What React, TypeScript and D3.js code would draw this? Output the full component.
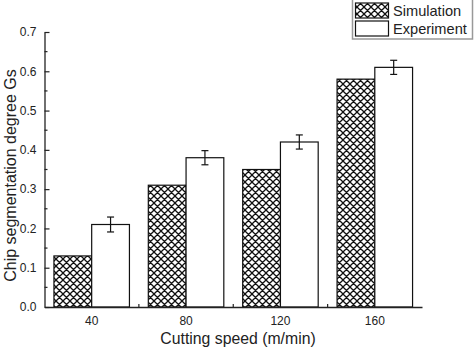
import React, { useRef, useEffect } from 'react';
import * as d3 from 'd3';

const speeds = ['40', '80', '120', '160'];
const simulation = [0.13, 0.31, 0.35, 0.58];
const experiment = [0.21, 0.38, 0.42, 0.61];
const experimentErr = [0.019, 0.018, 0.018, 0.018];
const yTicks = [0, 0.1, 0.2, 0.3, 0.4, 0.5, 0.6, 0.7];
const seriesNames = ['Simulation', 'Experiment'];

export default function App() {
  const ref = useRef<SVGSVGElement>(null);

  useEffect(() => {
    const svg = d3.select(ref.current);
    svg.selectAll('*').remove();

    const width = 474;
    const height = 350;
    const margin = { top: 32, right: 52, bottom: 43, left: 44.5 };
    const font = 'Liberation Sans, Arial, sans-serif';

    // hatch pattern for simulation bars
    const defs = svg.append('defs');
    const pat = defs.append('pattern')
      .attr('id', 'hatch')
      .attr('patternUnits', 'userSpaceOnUse')
      .attr('width', 7)
      .attr('height', 7);
    pat.append('rect').attr('width', 7).attr('height', 7).attr('fill', 'white');
    pat.append('path')
      .attr('d', 'M0,0 L7,7 M7,0 L0,7 M-1,6 L1,8 M6,-1 L8,1 M-1,1 L1,-1 M6,8 L8,6')
      .attr('stroke', '#111')
      .attr('stroke-width', 1.3);

    const x = d3.scaleBand()
      .domain(speeds)
      .range([margin.left, width - margin.right]);

    const y = d3.scaleLinear()
      .domain([0, 0.7])
      .range([height - margin.bottom, margin.top]);

    const barW = x.bandwidth() * 0.4;

    // Simulation bars
    svg.append('g')
      .selectAll('rect')
      .data(simulation)
      .enter().append('rect')
        .attr('x', (d, i) => x(speeds[i])! + x.bandwidth() / 2 - barW)
        .attr('y', d => y(d))
        .attr('width', barW)
        .attr('height', d => y(0) - y(d))
        .attr('fill', 'url(#hatch)')
        .attr('stroke', '#111')
        .attr('stroke-width', 1.2);

    // Experiment bars
    svg.append('g')
      .selectAll('rect')
      .data(experiment)
      .enter().append('rect')
        .attr('x', (d, i) => x(speeds[i])! + x.bandwidth() / 2)
        .attr('y', d => y(d))
        .attr('width', barW)
        .attr('height', d => y(0) - y(d))
        .attr('fill', 'white')
        .attr('stroke', '#111')
        .attr('stroke-width', 1.2);

    // Error bars
    const err = svg.append('g').attr('stroke', '#111').attr('stroke-width', 1.2);
    experiment.forEach((v, i) => {
      const cx = x(speeds[i])! + x.bandwidth() / 2 + barW / 2;
      const e = experimentErr[i];
      err.append('line').attr('x1', cx).attr('x2', cx).attr('y1', y(v + e)).attr('y2', y(v - e));
      err.append('line').attr('x1', cx - 3.5).attr('x2', cx + 3.5).attr('y1', y(v + e)).attr('y2', y(v + e));
      err.append('line').attr('x1', cx - 3.5).attr('x2', cx + 3.5).attr('y1', y(v - e)).attr('y2', y(v - e));
    });

    // Y axis
    const yAxis = svg.append('g')
      .attr('transform', `translate(${margin.left},0)`)
      .call(d3.axisLeft(y).tickValues(yTicks).tickFormat(d3.format('.1f')).tickSizeInner(-5).tickSizeOuter(0).tickPadding(8));
    yAxis.select('.domain').attr('stroke', '#222').attr('stroke-width', 1.3);
    yAxis.selectAll('.tick line').attr('stroke', '#222').attr('stroke-width', 1.2);
    yAxis.selectAll('.tick text').attr('font-family', font).attr('font-size', 12).attr('fill', '#222');
    const minorY = d3.range(0.05, 0.7, 0.1);
    yAxis.selectAll('.minor')
      .data(minorY)
      .enter().append('line')
        .attr('x1', 0).attr('x2', 3)
        .attr('y1', d => y(d)).attr('y2', d => y(d))
        .attr('stroke', '#222').attr('stroke-width', 1.2);

    // X axis
    const xAxis = svg.append('g')
      .attr('transform', `translate(0,${height - margin.bottom})`)
      .call(d3.axisBottom(x).tickSize(0).tickPadding(9));
    xAxis.select('.domain').attr('stroke', '#222').attr('stroke-width', 1.3);
    xAxis.selectAll('.tick text').attr('font-family', font).attr('font-size', 12).attr('fill', '#222');
    xAxis.selectAll('.minor')
      .data(speeds.slice(1))
      .enter().append('line')
        .attr('x1', d => x(d)!).attr('x2', d => x(d)!)
        .attr('y1', 0).attr('y2', -3)
        .attr('stroke', '#222').attr('stroke-width', 1.2);

    // Axis titles
    svg.append('text')
      .attr('x', 238)
      .attr('y', 344)
      .attr('text-anchor', 'middle')
      .attr('font-family', font)
      .attr('font-size', 15.8)
      .attr('fill', '#222')
      .text('Cutting speed (m/min)');

    svg.append('text')
      .attr('transform', 'rotate(-90)')
      .attr('x', -175.5)
      .attr('y', 15.5)
      .attr('text-anchor', 'middle')
      .attr('font-family', font)
      .attr('font-size', 16)
      .attr('fill', '#222')
      .text('Chip segmentation degree Gs');

    // Legend
    const legend = svg.append('g');
    legend.append('rect')
      .attr('x', 352.5).attr('y', -1)
      .attr('width', 120).attr('height', 40)
      .attr('fill', 'white')
      .attr('stroke', '#999')
      .attr('stroke-width', 1.5);
    seriesNames.forEach((name, i) => {
      const ly = 3 + i * 18;
      legend.append('rect')
        .attr('x', 355.5).attr('y', ly)
        .attr('width', 33).attr('height', 15)
        .attr('fill', i === 0 ? 'url(#hatch)' : 'white')
        .attr('stroke', '#111')
        .attr('stroke-width', 1.2);
      legend.append('text')
        .attr('x', 393)
        .attr('y', ly + 13)
        .attr('font-family', font)
        .attr('font-size', 14.6)
        .attr('fill', '#222')
        .text(name);
    });
  }, []);

  return (
    <svg ref={ref} width={474} height={350} style={{ position: 'absolute', left: 0, top: 0 }}></svg>
  );
}
